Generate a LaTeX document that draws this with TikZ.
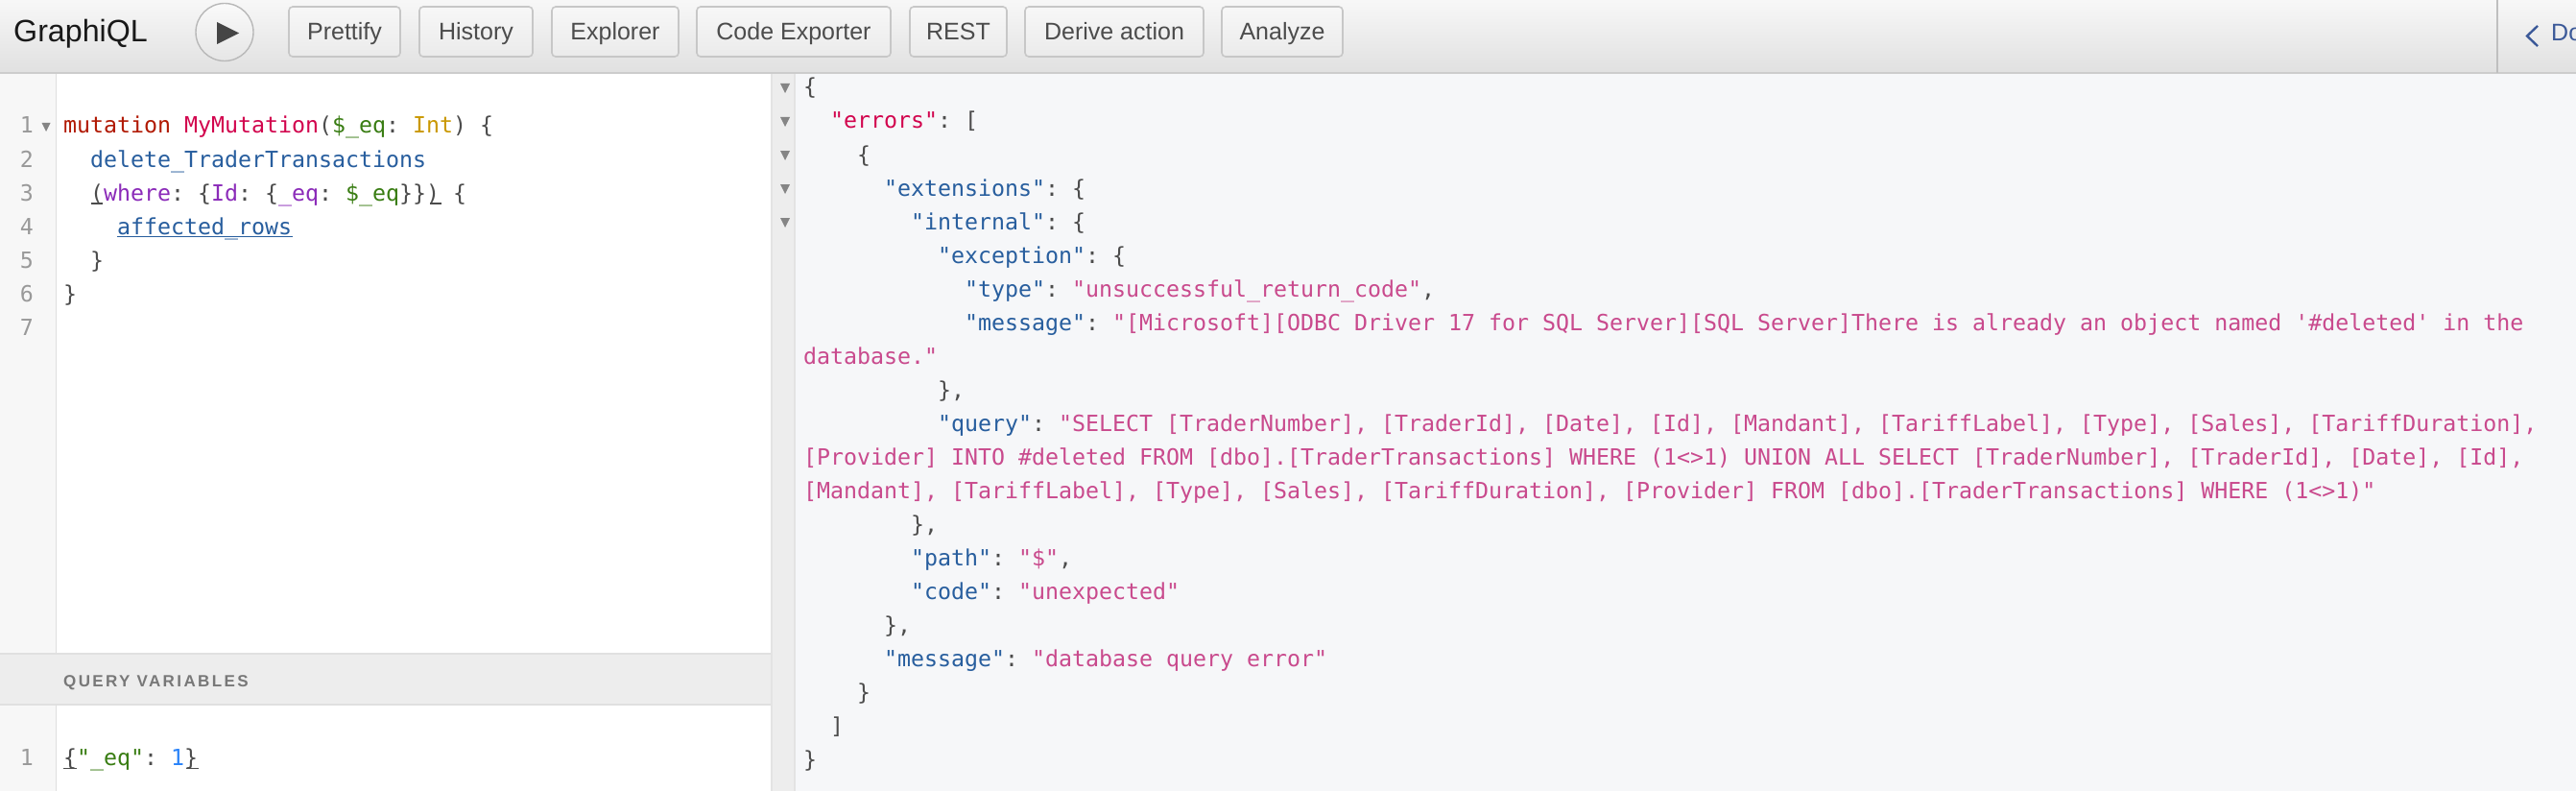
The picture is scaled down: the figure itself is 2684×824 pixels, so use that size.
\documentclass[tikz,border=0pt]{standalone}
\usepackage{fontspec}
\setmainfont{Liberation Sans}
\newfontfamily\codefont{DejaVu Sans Mono}
\newfontfamily\barfont[LetterSpace=14]{Liberation Sans Bold}
\definecolor{ckw}{HTML}{B11A04}
\definecolor{cdf}{HTML}{D2054E}
\definecolor{cvr}{HTML}{397D13}
\definecolor{cat}{HTML}{CA9800}
\definecolor{cpr}{HTML}{285E9E}
\definecolor{cab}{HTML}{8B2BB9}
\definecolor{cnb}{HTML}{2882F9}
\definecolor{cst}{HTML}{C94A8D}
\definecolor{cpn}{HTML}{4C4C4C}
\definecolor{cgn}{HTML}{999999}
\definecolor{docblue}{HTML}{3B5998}
\definecolor{resbg}{HTML}{F6F7F9}
\definecolor{gutbg}{HTML}{F7F7F7}
\newcommand\ckw[1]{\textcolor{ckw}{#1}}
\newcommand\cdf[1]{\textcolor{cdf}{#1}}
\newcommand\cvr[1]{\textcolor{cvr}{#1}}
\newcommand\cat[1]{\textcolor{cat}{#1}}
\newcommand\cpr[1]{\textcolor{cpr}{#1}}
\newcommand\cab[1]{\textcolor{cab}{#1}}
\newcommand\cnb[1]{\textcolor{cnb}{#1}}
\newcommand\cst[1]{\textcolor{cst}{#1}}
\tikzset{
  code/.style={anchor=base west,inner sep=0pt,outer sep=0pt,text=cpn,font=\fontsize{23.26}{28}\codefont\frenchspacing},
  lnum/.style={anchor=base,inner sep=0pt,outer sep=0pt,text=cgn,font=\fontsize{23.26}{28}\codefont},
  btn/.style={draw=black!22,line width=1.6pt,rounded corners=4pt,top color=white!97!black,bottom color=white!92!black,
    minimum height=52pt,inner sep=0pt,text=cpn,text height=17pt,text depth=0pt,font=\fontsize{25}{30}\selectfont},
  fold/.style={fill=black!48,draw=none},
  brk/.style={draw=cpn,line width=1.6pt},
}
\begin{document}
\begin{tikzpicture}[x=1pt,y=-1pt]
\useasboundingbox (0,0) rectangle (2684,824);
\clip (0,0) rectangle (2684,824);
% panes
\fill[white] (0,76) rectangle (804,824);
\fill[gutbg] (0,76) rectangle (58,824);
\draw[black!13,line width=1.4pt] (58.5,76) -- (58.5,824);
\fill[black!7] (0,681) rectangle (803,734);
\draw[black!12,line width=1.6pt] (0,681) -- (803,681) (0,734) -- (803,734);
\fill[black!7] (804,76) rectangle (829,824);
\fill[resbg] (828,76) rectangle (2684,824);
\draw[black!11,line width=1.2pt] (804,76) -- (804,824) (828,76) -- (828,824);
% header
\shade[top color=white!97!black,bottom color=white!88!black] (0,0) rectangle (2684,76);
\draw[black!20,line width=2pt] (0,76.5) -- (2684,76.5);
\draw[black!25,line width=1.4pt] (2602,0) -- (2602,76);
\node[anchor=base west,inner sep=0pt,text=black!90,font=\fontsize{32.2}{38}\selectfont] (title) at (14,44) {GraphiQL};
\node[circle,draw=black!28,line width=1.4pt,top color=white!98!black,bottom color=white!90!black,minimum size=60pt,inner sep=0pt] (play) at (234,33.5) {};
\fill[black!73] (226,23) -- (249,34.5) -- (226,46) -- cycle;
\node[btn,minimum width=116pt] (b1) at (359,33) {Prettify};
\node[btn,minimum width=118pt] (b2) at (496,33) {History};
\node[btn,minimum width=132pt] (b3) at (641,33) {Explorer};
\node[btn,minimum width=202pt] (b4) at (827,33) {Code Exporter};
\node[btn,minimum width=101pt] (b5) at (998.5,33) {REST};
\node[btn,minimum width=186pt] (b6) at (1161,33) {Derive action};
\node[btn,minimum width=126pt] (b7) at (1336,33) {Analyze};
\draw[docblue,line width=2.4pt] (2644,27) -- (2633,37.5) -- (2644,48);
\node[anchor=base west,inner sep=0pt,text=docblue,font=\fontsize{25}{30}\selectfont] (docs) at (2658,43) {Do};
% line numbers
\node[lnum] (n1) at (28,138.5) {1};
\node[lnum] (n2) at (28,174) {2};
\node[lnum] (n3) at (28,209) {3};
\node[lnum] (n4) at (28,244) {4};
\node[lnum] (n5) at (28,279) {5};
\node[lnum] (n6) at (28,314) {6};
\node[lnum] (n7) at (28,349) {7};
\node[lnum] (nv) at (28,797) {1};
\fill[fold] (43.5,128) -- (52.5,128) -- (48,137) -- cycle;
% query editor
\node[code] (q1) at (66,138.5) {\ckw{mutation} \cdf{MyMutation}(\cvr{\$\_eq}: \cat{Int}) \{};
\node[code] (q2) at (94,174) {\cpr{delete\_TraderTransactions}};
\node[code] (q3) at (94,209) {(\cab{where}: \{\cab{Id}: \{\cab{\_eq}: \cvr{\$\_eq}\}\}) \{};
\node[code] (q4) at (122,244) {\cpr{affected\_rows}};
\node[code] (q5) at (94,279) {\}};
\node[code] (q6) at (66,314) {\}};
\draw[brk] (94.5,212) -- (107,212) (448,212) -- (460,212);
\draw[cpr,line width=1.8pt] (122,246.5) -- (305,246.5);
% variables
\node[anchor=base west,inner sep=0pt,text=black!53,font=\fontsize{17}{20}\barfont] (qv) at (66,715) {QUERY VARIABLES};
\node[code] (v1) at (66,797) {\{\cvr{"\_eq"}: \cnb{1}\}};
\draw[brk] (66,800.5) -- (80,800.5) (194,800.5) -- (207,800.5);
% fold arrows in the result
\foreach \yy in {87,122,157,192,227}
  \fill[fold] (813,\yy) -- (823,\yy) -- (818,\yy+10) -- cycle;
% result
\node[code] (r1) at (837,99) {\{};
\node[code] (r2) at (865,134) {\cdf{"errors"}: [};
\node[code] (r3) at (893,169) {\{};
\node[code] (r4) at (921,204) {\cpr{"extensions"}: \{};
\node[code] (r5) at (949,239) {\cpr{"internal"}: \{};
\node[code] (r6) at (977,274) {\cpr{"exception"}: \{};
\node[code] (r7) at (1005,309) {\cpr{"type"}: \cst{"unsuccessful\_return\_code"},};
\node[code] (r8) at (1005,344) {\cpr{"message"}: \cst{"[Microsoft][ODBC Driver 17 for SQL Server][SQL Server]There is already an object named '\#deleted' in the}};
\node[code] (r9) at (837,379) {\cst{database."}};
\node[code] (r10) at (977,414) {\},};
\node[code] (r11) at (977,449) {\cpr{"query"}: \cst{"SELECT [TraderNumber], [TraderId], [Date], [Id], [Mandant], [TariffLabel], [Type], [Sales], [TariffDuration],}};
\node[code] (r12) at (837,484) {\cst{[Provider] INTO \#deleted FROM [dbo].[TraderTransactions] WHERE (1<>1) UNION ALL SELECT [TraderNumber], [TraderId], [Date], [Id],}};
\node[code] (r13) at (837,519) {\cst{[Mandant], [TariffLabel], [Type], [Sales], [TariffDuration], [Provider] FROM [dbo].[TraderTransactions] WHERE (1<>1)"}};
\node[code] (r14) at (949,554) {\},};
\node[code] (r15) at (949,589) {\cpr{"path"}: \cst{"\$"},};
\node[code] (r16) at (949,624) {\cpr{"code"}: \cst{"unexpected"}};
\node[code] (r17) at (921,659) {\},};
\node[code] (r18) at (921,694) {\cpr{"message"}: \cst{"database query error"}};
\node[code] (r19) at (893,729) {\}};
\node[code] (r20) at (865,764) {]};
\node[code] (r21) at (837,799) {\}};
\end{tikzpicture}
\end{document}
